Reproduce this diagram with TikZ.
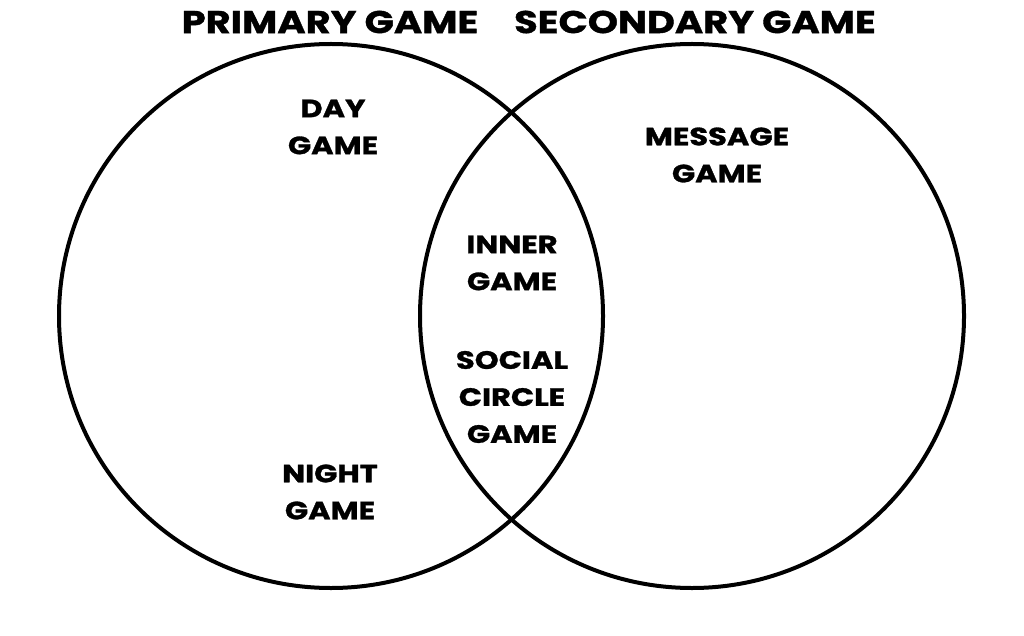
\documentclass[tikz,border=0pt]{standalone}
\usepackage{fontspec}
\setmainfont{Poppins}[FakeStretch=1.22,BoldFeatures={FakeBold=1.2}]
\begin{document}
\begin{tikzpicture}[x=1pt,y=-1pt,
  ring/.style={draw=black,line width=4pt},
  title/.style={font=\bfseries\fontsize{31.5}{31.5}\selectfont,anchor=center,inner sep=0pt},
  lbl/.style={font=\bfseries\fontsize{25}{37}\selectfont,align=center,anchor=center,inner sep=0pt}]
\useasboundingbox (0,0) rectangle (1024,636);
\node[ring,circle,minimum size=544pt,inner sep=0pt] (left) at (331,316) {};
\node[ring,circle,minimum size=544pt,inner sep=0pt] (right) at (692,316) {};
\node[title] (t1) at (330,22) {PRIMARY GAME};
\node[title] (t2) at (695,22) {SECONDARY GAME};
\node[lbl] (day) at (333,127) {DAY\\GAME};
\node[lbl] (msg) at (717,155) {MESSAGE\\GAME};
\node[lbl] (inner) at (512,263) {INNER\\GAME};
\node[lbl] (social) at (512,397) {SOCIAL\\CIRCLE\\GAME};
\node[lbl] (night) at (330,492) {NIGHT\\GAME};
\end{tikzpicture}
\end{document}
